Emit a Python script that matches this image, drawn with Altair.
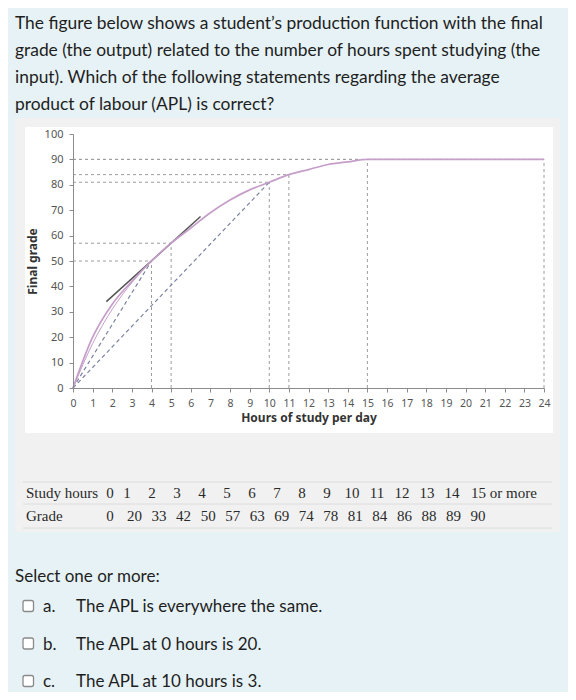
import pandas as pd
import altair as alt

# production function (table under the figure)
hours = list(range(16))
grades = [0, 20, 33, 42, 50, 57, 63, 69, 74, 78, 81, 84, 86, 88, 89, 90]
hour_labels = [str(h) for h in range(15)] + ["15 or more"]
last_hour = 24

# points marked with dashed guides
guide_hours = [4, 5, 10, 11, 15, 24]
guide_grades = [50, 57, 81, 84, 90, 90]

# rays from the origin (APL)
ray_hours = [4, 10]
ray_grades = [50, 81]

# tangent line through 4 hours
tangent_hours = [1.7, 6.5]
tangent_grades = [34, 67.5]

# faint second curve between 0 and 4 hours
inner_hours = [0, 1, 2, 3, 4]
inner_grades = [0, 17.5, 31, 41.5, 50]

question = [
    "The figure below shows a student\u2019s production function with the final",
    "grade (the output) related to the number of hours spent studying (the",
    "input). Which of the following statements regarding the average",
    "product of labour (APL) is correct?",
]
prompt = "Select one or more:"
letters = ["a.", "b.", "c."]
options = [
    "The APL is everywhere the same.",
    "The APL at 0 hours is 20.",
    "The APL at 10 hours is 3.",
]

# ── layout (page pixels) ──────────────────────────────────────────────
W, H = 471, 254
OX, OY = 73, 134          # top-left of the plot area on the page


def px(v):
    return v - OX


def py(v):
    return v - OY


PURPLE = "#c59ec9"
GRID = "#9c9c9c"
RAY = "#7c84a0"
SANS = "Lato"
AXFONT = "Noto Sans"
SERIF = "Liberation Serif"
TXT = "#1e1e1e"

one = pd.DataFrame({"k": [0]})

x_scale = alt.Scale(domain=[0, last_hour], nice=False, zero=False)
y_scale = alt.Scale(domain=[0, 100], nice=False)

x_axis = alt.Axis(
    values=list(range(last_hour + 1)), title="Hours of study per day", grid=False,
    labelFont=AXFONT, labelFontSize=10.5, labelColor="#555", labelPadding=6,
    labelFlush=False, labelOverlap=False,
    domainColor="#8c8c8c", tickColor="#8c8c8c", tickSize=4,
    titleFont=AXFONT, titleFontSize=12, titleFontWeight="bold", titleColor="#333",
    titlePadding=4, zindex=1,
)
y_axis = alt.Axis(
    values=list(range(0, 101, 10)), title="Final grade", grid=False,
    labelFont=AXFONT, labelFontSize=11, labelColor="#555", labelPadding=6,
    domainColor="#8c8c8c", tickColor="#8c8c8c", tickSize=4,
    titleFont=AXFONT, titleFontSize=12, titleFontWeight="bold", titleColor="#333",
    titlePadding=5, zindex=1,
)


def X(field):
    return alt.X(field, type="quantitative", scale=x_scale, axis=None)


def Y(field):
    return alt.Y(field, type="quantitative", scale=y_scale, axis=y_axis)


def box(x0, x1, y0, y1, color, **kw):
    return alt.Chart(one).mark_rect(color=color, **kw).encode(
        x=alt.value(px(x0)), x2=alt.value(px(x1)),
        y=alt.value(py(y0)), y2=alt.value(py(y1)),
    )


def label(text, x, y, size=17, font=SANS, align="left", color=TXT):
    return alt.Chart(pd.DataFrame({"t": [text]})).mark_text(
        font=font, fontSize=size, align=align, baseline="middle", color=color
    ).encode(x=alt.value(px(x)), y=alt.value(py(y)), text="t:N")


layers = []

# backgrounds: grey panel and white figure
layers.append(box(15, 560, 118, 532, "#f1f1f1"))
layers.append(box(25, 553, 127, 433, "#ffffff"))

# header text
for i, line in enumerate(question):
    layers.append(label(line, 15, 24 + 27 * i, size=17.4))

# plot
curve_df = pd.DataFrame({"h": hours + [last_hour], "g": grades + [grades[-1]]})
guide_df = pd.DataFrame({"h": guide_hours, "g": guide_grades, "zero": 0})
ray_df = pd.DataFrame({"h": ray_hours, "g": ray_grades, "zero": 0})
tan_df = pd.DataFrame({"h": tangent_hours, "g": tangent_grades})
inner_df = pd.DataFrame({"h": inner_hours, "g": inner_grades})

hguides = alt.Chart(guide_df).mark_rule(color=GRID, strokeDash=[3, 3], strokeWidth=1).encode(
    x=X("zero"), x2="h", y=Y("g")
)
vguides = alt.Chart(guide_df).mark_rule(color=GRID, strokeDash=[3, 3], strokeWidth=1).encode(
    x=X("h"), y=Y("zero"), y2="g"
)
rays = alt.Chart(ray_df).mark_rule(color=RAY, strokeDash=[4, 3], strokeWidth=1.2).encode(
    x=X("zero"), x2="h", y=Y("zero"), y2="g"
)
inner = alt.Chart(inner_df).mark_line(color=PURPLE, strokeWidth=1, interpolate="monotone").encode(
    x=X("h"), y=Y("g")
)
tangent = alt.Chart(tan_df).mark_line(color="#555", strokeWidth=1.5).encode(
    x=X("h"), y=Y("g")
)
curve = alt.Chart(curve_df).mark_line(color=PURPLE, strokeWidth=1.7, interpolate="monotone").encode(
    x=alt.X("h:Q", scale=x_scale, axis=x_axis), y=Y("g")
)
layers += [hguides, vguides, rays, inner, tangent, curve]

# table
for yl in [482, 504, 528]:
    layers.append(
        alt.Chart(one).mark_rule(color="#dcdcdc", strokeWidth=1).encode(
            x=alt.value(px(23)), x2=alt.value(px(552)), y=alt.value(py(yl))
        )
    )
layers.append(label("Study hours", 26, 493, size=15, font=SERIF, color="#2a2a2a"))
layers.append(label("Grade", 26, 516, size=15, font=SERIF, color="#2a2a2a"))

hour_row = alt.Chart(pd.DataFrame({"i": hours, "t": hour_labels})).mark_text(
    font=SERIF, fontSize=15, color="#2a2a2a", baseline="middle"
).encode(
    x=alt.X("i:Q", axis=None, scale=alt.Scale(
        domain=[0, 1, 14, 15], range=[px(110), px(127), px(452), px(504)], zero=False, nice=False)),
    y=alt.value(py(493)),
    text="t:N",
)
grade_row = alt.Chart(pd.DataFrame({"i": hours, "g": grades})).mark_text(
    font=SERIF, fontSize=15, color="#2a2a2a", baseline="middle"
).encode(
    x=alt.X("i:Q", axis=None, scale=alt.Scale(
        domain=[0, 15], range=[px(110), px(478)], zero=False, nice=False)),
    y=alt.value(py(516)),
    text="g:N",
)
layers += [hour_row, grade_row]

# answer options
layers.append(label(prompt, 15, 577, size=17))
for i, (letter, opt) in enumerate(zip(letters, options)):
    yc = 607 + 37.5 * i
    layers.append(box(23, 33.5, yc - 6.5, yc + 4.5, "#ffffff", stroke="#8a8a8a",
                      strokeWidth=1.3, cornerRadius=2))
    layers.append(label(letter, 43, yc, size=17))
    layers.append(label(opt, 76, yc, size=17))

chart = (
    alt.layer(*layers)
    .resolve_scale(x="independent")
    .properties(
        width=W, height=H,
        autosize=alt.AutoSizeParams(type="none"),
        padding={"left": OX - 8, "top": OY - 8, "right": 560 - (OX - 8) - W, "bottom": 684 - (OY - 8) - H},
        background="#e6f2f5",
    )
    .configure_view(strokeWidth=0)
)

chart.save("out.html", embed_options={"renderer": "svg", "actions": False})
